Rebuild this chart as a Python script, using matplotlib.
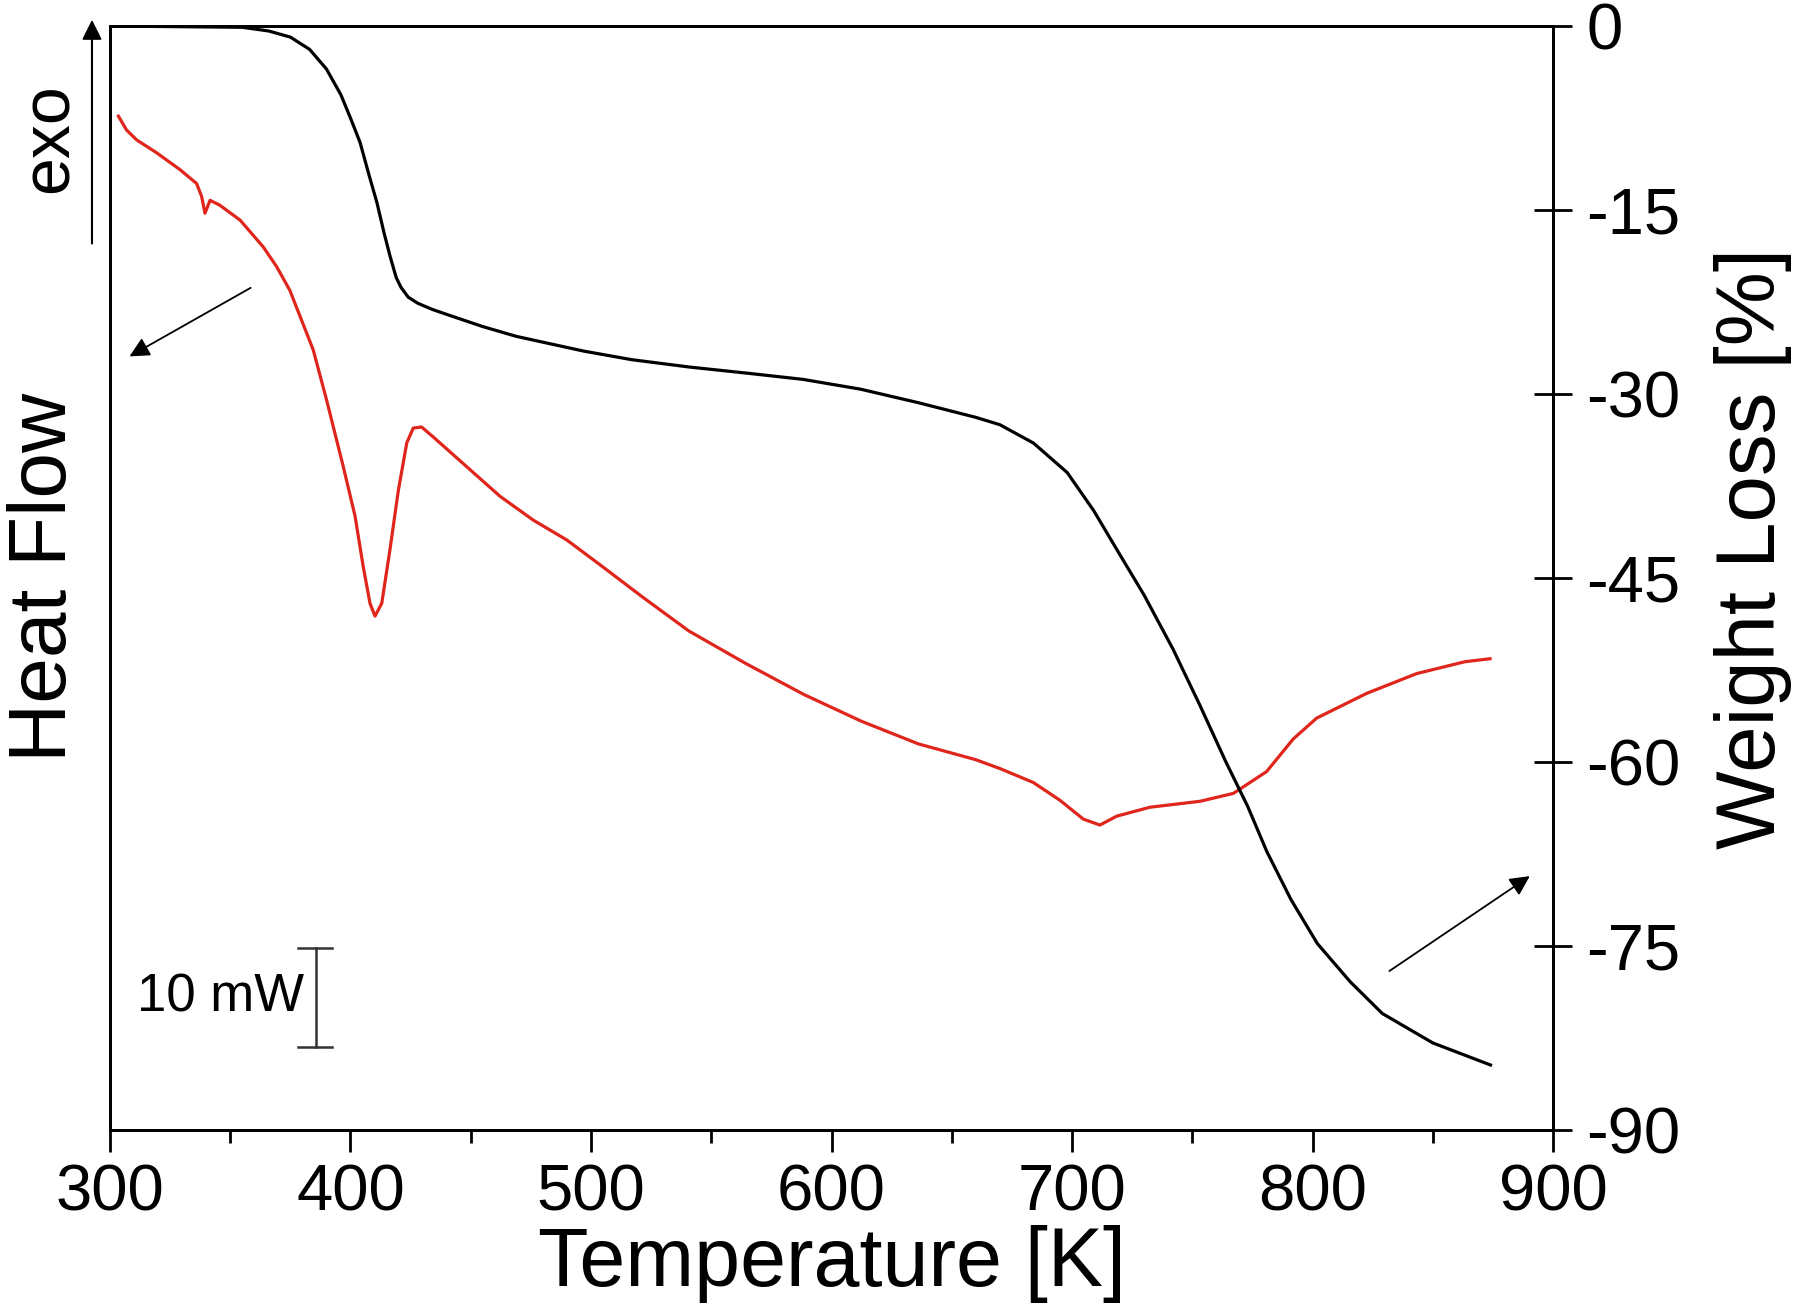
import matplotlib
matplotlib.use("Agg")
import matplotlib.pyplot as plt
from matplotlib.ticker import MultipleLocator

plt.rcParams['font.family'] = ['Liberation Sans', 'DejaVu Sans']

# TG curve: weight loss [%] vs temperature [K]
tg_temp = [303, 355, 366, 375, 383, 390, 396, 400, 404, 407.5, 411, 414, 416.5,
           419, 421, 424, 428, 434, 441.4, 455, 469, 483, 497, 517, 541, 565,
           588, 612, 636, 650, 660, 670, 684, 698, 709, 719, 730, 742, 753,
           764, 773, 781, 791, 802, 815.6, 829, 850, 874]
tg_loss = [0, -0.1, -0.4, -0.9, -1.9, -3.5, -5.6, -7.5, -9.5, -12.0, -14.4, -16.9, -18.8,
           -20.5, -21.3, -22.1, -22.6, -23.1, -23.6, -24.5, -25.3, -25.9, -26.5, -27.2, -27.8, -28.3,
           -28.8, -29.6, -30.7, -31.4, -31.9, -32.5, -34.0, -36.4, -39.5, -42.8, -46.4, -50.8, -55.3,
           -60.0, -63.6, -67.3, -71.2, -74.8, -77.9, -80.5, -82.9, -84.7]

# DSC curve: heat flow [mW], arbitrary offset
dsc_temp = [303.5, 306.9, 311.1, 319.4, 329.1, 336.0, 338.1, 339.5, 341.6, 345.7,
            354.1, 363.7, 369.3, 374.8, 379.0, 384.5, 390.1, 397.0, 401.9, 405.3,
            408.1, 410.2, 413.0, 416.4, 419.9, 423.4, 426.1, 429.6, 434.4, 448.3,
            462.2, 476.0, 489.9, 503.7, 521.6, 540.7, 564.5, 588.4, 612.3, 636.1,
            660.0, 670.1, 683.9, 695.0, 704.7, 711.6, 718.6, 732.4, 753.2, 767.1,
            780.9, 792.0, 801.7, 822.5, 843.3, 863.4, 873.8]
dsc_flow = [102.4, 101.0, 100.0, 98.7, 97.0, 95.6, 94.3, 92.6, 93.9, 93.4,
            91.9, 89.2, 87.2, 84.8, 82.2, 78.8, 73.7, 67.0, 62.0, 56.9,
            53.2, 51.9, 53.2, 58.6, 64.6, 69.4, 70.9, 71.0, 70.0, 67.0,
            64.0, 61.6, 59.6, 57.1, 53.8, 50.4, 47.1, 44.0, 41.3, 39.0,
            37.4, 36.5, 35.1, 33.3, 31.4, 30.8, 31.7, 32.6, 33.2, 34.0,
            36.2, 39.5, 41.6, 44.1, 46.1, 47.3, 47.6]

x_ticks = [300, 400, 500, 600, 700, 800, 900]
y_ticks = [0, -15, -30, -45, -60, -75, -90]

fig = plt.figure(figsize=(18, 13.1), dpi=100)
ax = fig.add_axes([0.0611, 0.1374, 0.8017, 0.8427])
ax2 = ax.twinx()

# weight loss on the right axis
ax2.plot(tg_temp, tg_loss, color='black', lw=2.3, solid_joinstyle='round')
ax2.set_ylim(-90, 0)
ax2.set_yticks(y_ticks)
ax2.set_yticklabels([str(v) for v in y_ticks])
ax2.tick_params(axis='y', direction='inout', length=28, width=2, labelsize=47, pad=10)

# heat flow on the left axis (no ticks)
ax.plot(dsc_temp, dsc_flow, color='#e0261c', lw=2.3, solid_joinstyle='round')
ax.set_xlim(300, 900)
ax.set_ylim(0, 111.5)
ax.set_xticks(x_ticks)
ax.xaxis.set_minor_locator(MultipleLocator(50))
ax.tick_params(axis='x', which='major', direction='out', length=16, width=2, labelsize=47, pad=8)
ax.tick_params(axis='x', which='minor', direction='out', length=9, width=2)
ax.tick_params(axis='y', left=False, labelleft=False)
for a in (ax, ax2):
    for s in a.spines.values():
        s.set_linewidth(2)

# 10 mW scale bar
ax.plot([385.7, 385.7], [8.4, 18.4], color='#333333', lw=1.8)
ax.plot([378.2, 392.3], [18.4, 18.4], color='#333333', lw=1.8)
ax.plot([378.2, 392.3], [8.4, 8.4], color='#333333', lw=1.8)
ax.text(380.5, 13.4, '10 mW', fontsize=38, ha='right', va='center')

# arrows pointing to each curve's axis
ax.annotate('', xy=(307.1, 78.0), xytext=(359.5, 85.2),
            arrowprops=dict(arrowstyle='-|>', color='black', lw=1.3, mutation_scale=30))
ax.annotate('', xy=(891.3, 25.8), xytext=(831, 15.9),
            arrowprops=dict(arrowstyle='-|>', color='black', lw=1.3, mutation_scale=30))

# exo arrow
fig.add_artist(matplotlib.patches.FancyArrowPatch(
    (0.0511, 0.812), (0.0511, 0.987), transform=fig.transFigure,
    arrowstyle='-|>', color='black', lw=1.5, mutation_scale=30))

fig.text(0.0273, 0.8947, 'exo', rotation=90, fontsize=49, ha='center', va='center')
fig.text(0.025, 0.5595, 'Heat Flow', rotation=90, fontsize=59, ha='center', va='center')
fig.text(0.974, 0.581, 'Weight Loss [%]', rotation=90, fontsize=60, ha='center', va='center')
fig.text(0.462, 0.0183, 'Temperature [K]', fontsize=59.5, ha='center', va='baseline')

fig.savefig('out.png', dpi=100)
